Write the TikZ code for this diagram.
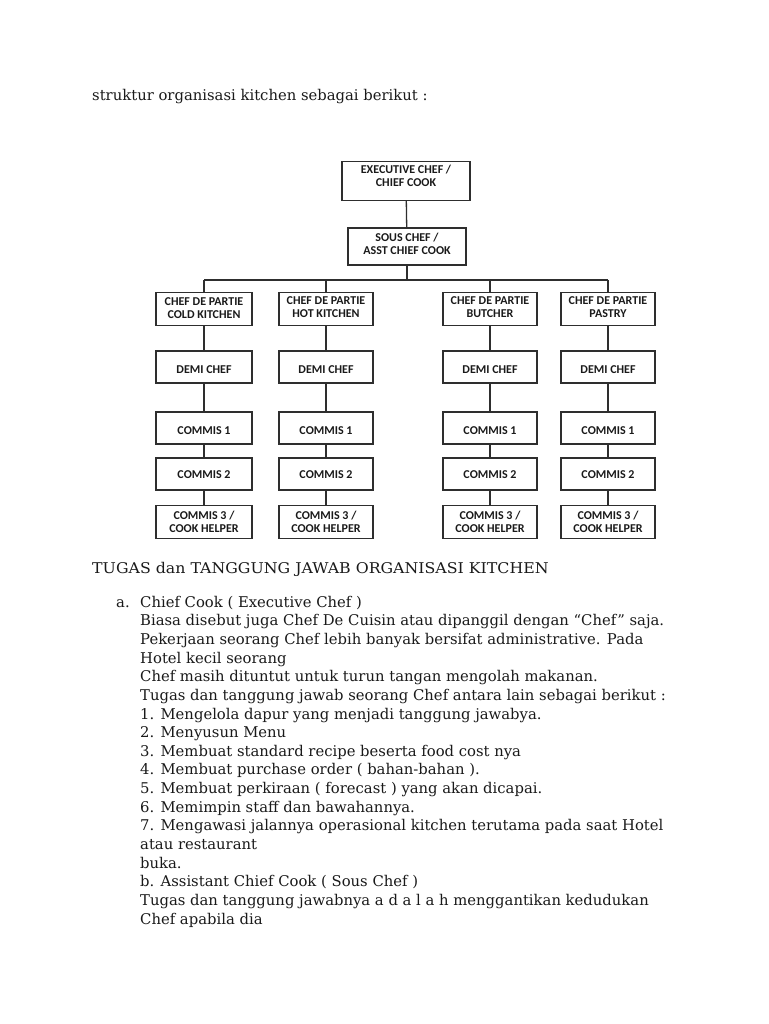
\documentclass[tikz,border=0pt]{standalone}
\usepackage{fontspec}
\setmainfont{DejaVu Serif}
\newfontfamily\chartfont{Carlito}
\definecolor{linec}{HTML}{2E2E2E}
\definecolor{inkc}{HTML}{1A1A1A}
\begin{document}
\begin{tikzpicture}[x=1pt,y=-1pt,
  box/.style={draw=linec, line width=1.3pt, inner sep=0pt},
  lbl/.style={inner sep=0pt, align=center,
    font=\chartfont\bfseries\fontsize{12}{13}\selectfont, text=inkc},
  conn/.style={draw=linec, line width=1.3pt},
  body/.style={anchor=base west, inner sep=0pt,
    font=\fontsize{14.8}{17}\selectfont, text=inkc}]
\fill[white] (0,0) rectangle (768,1024);
\useasboundingbox (0,0) rectangle (768,1024);

% chart boxes
\node[box, minimum width=128pt, minimum height=39pt] (exec) at (406,181) {};
\node[box, minimum width=118pt, minimum height=37pt] (sous) at (407,246.5) {};
\coordinate (bus) at (407,280);
\coordinate (busL) at (204,280);
\coordinate (busR) at (608,280);

\node[box, minimum width=96pt, minimum height=33pt] (cdpa) at (204,309) {};
\node[box, minimum width=94pt, minimum height=33pt] (cdpb) at (326,309) {};
\node[box, minimum width=94pt, minimum height=33pt] (cdpc) at (490,309) {};
\node[box, minimum width=94pt, minimum height=33pt] (cdpd) at (608,309) {};

\node[box, minimum width=96pt, minimum height=32pt] (dema) at (204,367) {};
\node[box, minimum width=94pt, minimum height=32pt] (demb) at (326,367) {};
\node[box, minimum width=94pt, minimum height=32pt] (demc) at (490,367) {};
\node[box, minimum width=94pt, minimum height=32pt] (demd) at (608,367) {};

\node[box, minimum width=96pt, minimum height=32pt] (c1a) at (204,428) {};
\node[box, minimum width=94pt, minimum height=32pt] (c1b) at (326,428) {};
\node[box, minimum width=94pt, minimum height=32pt] (c1c) at (490,428) {};
\node[box, minimum width=94pt, minimum height=32pt] (c1d) at (608,428) {};

\node[box, minimum width=96pt, minimum height=32pt] (c2a) at (204,474) {};
\node[box, minimum width=94pt, minimum height=32pt] (c2b) at (326,474) {};
\node[box, minimum width=94pt, minimum height=32pt] (c2c) at (490,474) {};
\node[box, minimum width=94pt, minimum height=32pt] (c2d) at (608,474) {};

\node[box, minimum width=96pt, minimum height=33pt] (c3a) at (204,522) {};
\node[box, minimum width=94pt, minimum height=33pt] (c3b) at (326,522) {};
\node[box, minimum width=94pt, minimum height=33pt] (c3c) at (490,522) {};
\node[box, minimum width=94pt, minimum height=33pt] (c3d) at (608,522) {};

% chart labels
\node[lbl] (exec-t) at ([yshift=5pt]exec.center) {EXECUTIVE CHEF /\\CHIEF COOK};
\node[lbl] (sous-t) at ([yshift=3pt]sous.center) {SOUS CHEF /\\ASST CHIEF COOK};
\node[lbl] (cdpa-t) at ([yshift=0.5pt]cdpa.center) {CHEF DE PARTIE\\COLD KITCHEN};
\node[lbl] (cdpb-t) at ([yshift=2pt]cdpb.center) {CHEF DE PARTIE\\HOT KITCHEN};
\node[lbl] (cdpc-t) at ([yshift=2pt]cdpc.center) {CHEF DE PARTIE\\BUTCHER};
\node[lbl] (cdpd-t) at ([yshift=2pt]cdpd.center) {CHEF DE PARTIE\\PASTRY};
\foreach \c in {a,b,c,d}{
  \node[lbl] (dem\c-t) at ([yshift=-3pt]dem\c.center) {DEMI CHEF};
  \node[lbl] (c1\c-t) at ([yshift=-2.5pt]c1\c.center) {COMMIS 1};
  \node[lbl] (c2\c-t) at ([yshift=-0.5pt]c2\c.center) {COMMIS 2};
  \node[lbl] (c3\c-t) at ([yshift=0pt]c3\c.center) {COMMIS 3 /\\COOK HELPER};
}

% connectors
\draw[conn] (exec) -- (sous);
\draw[conn] (sous) -- (bus);
\draw[conn] (busL) -- (busR);
\foreach \c in {a,b,c,d}{
  \draw[conn] (cdp\c.north |- bus) -- (cdp\c);
  \draw[conn] (cdp\c) -- (dem\c);
  \draw[conn] (dem\c) -- (c1\c);
  \draw[conn] (c1\c) -- (c2\c);
  \draw[conn] (c2\c) -- (c3\c);
}

% text
\node[body] (intro) at (92,101) {struktur organisasi kitchen sebagai berikut :};
\node[body] (title) at (92,573) {\scalebox{1.066}[1]{TUGAS dan TANGGUNG JAWAB ORGANISASI KITCHEN}};
\node[body] (la) at (116,607) {a.};
\node[body] (l0) at (140,607) {Chief Cook ( Executive Chef )};
\node[body] (l1) at (140,625.7) {Biasa disebut juga Chef De Cuisin atau dipanggil dengan “Chef” saja.};
\node[body] (l2) at (140,644.3) {Pekerjaan seorang Chef lebih banyak bersifat administrative. Pada};
\node[body] (l3) at (140,663.0) {Hotel kecil seorang};
\node[body] (l4) at (140,681.6) {Chef masih dituntut untuk turun tangan mengolah makanan.};
\node[body] (l5) at (140,700.3) {Tugas dan tanggung jawab seorang Chef antara lain sebagai berikut :};
\node[body] (l6) at (140,719.0) {1. Mengelola dapur yang menjadi tanggung jawabya.};
\node[body] (l7) at (140,737.6) {2. Menyusun Menu};
\node[body] (l8) at (140,756.3) {3. Membuat standard recipe beserta food cost nya};
\node[body] (l9) at (140,774.9) {4. Membuat purchase order ( bahan-bahan ).};
\node[body] (l10) at (140,793.6) {5. Membuat perkiraan ( forecast ) yang akan dicapai.};
\node[body] (l11) at (140,812.3) {6. Memimpin staff dan bawahannya.};
\node[body] (l12) at (140,830.9) {7. Mengawasi jalannya operasional kitchen terutama pada saat Hotel};
\node[body] (l13) at (140,849.6) {atau restaurant};
\node[body] (l14) at (140,868.2) {buka.};
\node[body] (l15) at (140,886.9) {b. Assistant Chief Cook ( Sous Chef )};
\node[body] (l16) at (140,905.6) {Tugas dan tanggung jawabnya a d a l a h menggantikan kedudukan};
\node[body] (l17) at (140,924.2) {Chef apabila dia};
\end{tikzpicture}
\end{document}
